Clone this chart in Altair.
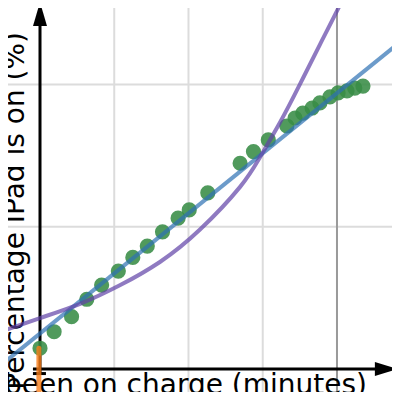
import altair as alt
import pandas as pd

# ---- data ----
time_min = [0.0, 3.8, 8.5, 12.6, 16.6, 21.1, 25.0, 28.9, 33.0, 37.2, 40.2, 45.2,
            53.9, 57.5, 61.5, 66.5, 68.7, 70.8, 73.3, 75.4, 78.1, 80.3, 82.7, 84.8, 87.0]
percent = [7.3, 13.1, 18.4, 24.5, 29.5, 34.4, 39.2, 43.2, 48.2, 53.0, 55.9, 61.9,
           72.3, 76.4, 80.5, 85.4, 88.2, 89.9, 91.7, 93.5, 95.6, 97.0, 97.7, 98.7, 99.4]

fit_line_time = [-10.8, 97.0]
fit_line_percent = [1.1, 114.9]

exp_curve_time = [-10.8, 0.0, 10.8, 21.5, 32.3, 43.1, 53.9, 59.3, 64.6, 70.0, 75.4, 81.6, 84.0]
exp_curve_percent = [13.0, 17.9, 22.9, 29.4, 37.6, 49.0, 64.0, 74.5, 86.5, 100.0, 114.0, 130.0, 137.0]

orange_time = [-0.3]
orange_top = [7.3]
orange_bottom = [-11.0]

x_grid_light = [20, 40, 60]
x_grid_dark = [80]
y_grid = [50, 100]

x_label = ["Time been on charge (minutes)"]
y_label = ["Percentage IPad is on (%)"]

X_DOMAIN = [-8.62, 94.82]
Y_DOMAIN = [-8.08, 126.85]
X_AXIS_SPAN = [-1.9, 91.0]
Y_AXIS_SPAN = [-2.1, 121.0]
X_ARROW = [93.3]
Y_ARROW = [124.7]
ORIGIN_MARK = [-1.9, 1.6, -1.6]

xs = alt.Scale(domain=X_DOMAIN, nice=False, zero=False)
ys = alt.Scale(domain=Y_DOMAIN, nice=False, zero=False)


def X(f):
    return alt.X(f, type="quantitative", scale=xs, axis=None)


def Y(f):
    return alt.Y(f, type="quantitative", scale=ys, axis=None)


FONT = "DejaVu Sans"
FS = 28

grid_v = alt.Chart(pd.DataFrame({"t": x_grid_light})).mark_rule(
    color="#dcdcdc", strokeWidth=2).encode(x=X("t"))
grid_v2 = alt.Chart(pd.DataFrame({"t": x_grid_dark})).mark_rule(
    color="#9a9a9a", strokeWidth=2).encode(x=X("t"))
grid_h = alt.Chart(pd.DataFrame({"p": y_grid})).mark_rule(
    color="#dcdcdc", strokeWidth=2).encode(y=Y("p"))

xlab = alt.Chart(pd.DataFrame({"l": x_label})).mark_text(
    align="right", baseline="alphabetic", fontSize=FS, font=FONT, color="black"
).encode(x=alt.value(359), y=alt.value(386), text="l:N")
ylab = alt.Chart(pd.DataFrame({"l": y_label})).mark_text(
    align="right", baseline="alphabetic", fontSize=FS, font=FONT, color="black", angle=270
).encode(x=alt.value(16), y=alt.value(24), text="l:N")

x_axis = alt.Chart(pd.DataFrame({"a": [X_AXIS_SPAN[0]], "b": [X_AXIS_SPAN[1]], "p": [0]})).mark_rule(
    color="black", strokeWidth=3).encode(x=X("a"), x2="b", y=Y("p"))
y_axis = alt.Chart(pd.DataFrame({"a": [Y_AXIS_SPAN[0]], "b": [Y_AXIS_SPAN[1]], "t": [0]})).mark_rule(
    color="black", strokeWidth=3).encode(y=Y("a"), y2="b", x=X("t"))
origin = alt.Chart(pd.DataFrame({"a": [ORIGIN_MARK[0]], "b": [ORIGIN_MARK[1]], "p": [ORIGIN_MARK[2]]})).mark_rule(
    color="black", strokeWidth=3).encode(x=X("a"), x2="b", y=Y("p"))

x_arrow = alt.Chart(pd.DataFrame({"t": X_ARROW, "p": [0]})).mark_point(
    shape="M-1,-0.61L1,0L-1,0.61Z", filled=True, size=529, color="black", opacity=1
).encode(x=X("t"), y=Y("p"))
y_arrow = alt.Chart(pd.DataFrame({"t": [0], "p": Y_ARROW})).mark_point(
    shape="M0,-1L0.583,1L-0.583,1Z", filled=True, size=576, color="black", opacity=1
).encode(x=X("t"), y=Y("p"))

dots = alt.Chart(pd.DataFrame({"t": time_min, "p": percent})).mark_circle(
    size=230, color="#388c46", opacity=0.88).encode(x=X("t"), y=Y("p"))

blue = alt.Chart(pd.DataFrame({"t": fit_line_time, "p": fit_line_percent})).mark_line(
    color="#2d70b3", strokeWidth=4, opacity=0.7, clip=True).encode(x=X("t"), y=Y("p"))

purple = alt.Chart(pd.DataFrame({"t": exp_curve_time, "p": exp_curve_percent})).mark_line(
    color="#6042a6", strokeWidth=4, opacity=0.7, clip=True, interpolate="natural"
).encode(x=X("t"), y=Y("p"))

orange = alt.Chart(pd.DataFrame({"t": orange_time, "a": orange_top, "b": orange_bottom})).mark_rule(
    color="#fa7e19", strokeWidth=5, opacity=0.8, strokeCap="round"
).encode(x=X("t"), y=Y("a"), y2="b")

chart = alt.layer(
    grid_v, grid_h, grid_v2, xlab, ylab, x_axis, y_axis, origin, x_arrow, y_arrow,
    dots, blue, purple, orange
).properties(
    width=384, height=384, padding=0, autosize="none"
).configure_view(stroke=None)

chart.save("out.html", embed_options={"renderer": "svg", "actions": False})
